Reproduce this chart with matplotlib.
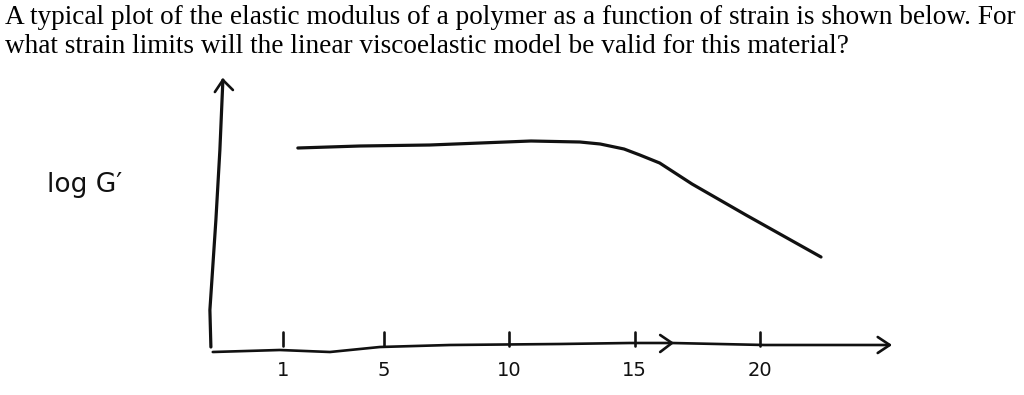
import matplotlib
matplotlib.use("Agg")
import matplotlib.pyplot as plt

# ---- data ----
question = ("A typical plot of the elastic modulus of a polymer as a function of strain is shown below. For\n"
            "what strain limits will the linear viscoelastic model be valid for this material?")
y_label = "log G\u2032"
strain = [1.58, 4.05, 6.84, 10.87, 12.82, 13.63, 14.58, 15.21, 16.0, 17.29, 19.44, 22.43]
log_g = [20.2, 20.4, 20.5, 20.9, 20.8, 20.6, 20.1, 19.5, 18.7, 16.6, 13.5, 9.3]
tick_values = [1, 5, 10, 15, 20]
tick_labels = ["1", "5", "10", "15", "20"]

# hand-drawn axis path (strain, level)
x_axis_x = [-1.81, 0.86, 2.86, 4.85, 7.64, 12.02, 14.81, 16.49, 20.19, 25.17]
x_axis_y = [-0.2, 0.0, -0.2, 0.3, 0.5, 0.6, 0.7, 0.7, 0.5, 0.5]
y_axis_x = [-1.885, -1.925, -1.845, -1.686, -1.527, -1.407]
y_axis_y = [0.3, 4.0, 7.0, 13.0, 20.0, 27.0]

fig = plt.figure(figsize=(10.24, 3.95), dpi=100)
ax = fig.add_axes([0, 0, 1, 1])
ax.set_xlim(-10.29, 30.52)
ax.set_ylim(-4.5, 35.0)
ax.axis("off")

ink = "#111111"
lw_axis = 1.9

# curve
ax.plot(strain, log_g, color=ink, lw=2.3, solid_capstyle="round", solid_joinstyle="round")

# axes (hand-drawn look)
ax.plot(x_axis_x, x_axis_y, color=ink, lw=lw_axis, solid_capstyle="round", solid_joinstyle="round")
ax.plot(y_axis_x, y_axis_y, color=ink, lw=2.3, solid_capstyle="round", solid_joinstyle="round")

# arrow heads
ax.plot([16.02, 16.49, 16.02], [1.5, 0.7, -0.2], color=ink, lw=lw_axis, solid_capstyle="round", solid_joinstyle="round")
ax.plot([24.69, 25.17, 24.69], [1.3, 0.5, -0.3], color=ink, lw=lw_axis, solid_capstyle="round", solid_joinstyle="round")
ax.plot([-1.726, -1.407, -1.008], [25.8, 27.0, 26.0], color=ink, lw=lw_axis, solid_capstyle="round", solid_joinstyle="round")

# ticks and labels
for v, lab in zip(tick_values, tick_labels):
    ax.plot([v, v], [0.4, 1.8], color=ink, lw=lw_axis, solid_capstyle="round")
    ax.text(v, -2.0, lab, ha="center", va="center", fontsize=14, color=ink, family="DejaVu Sans")

ax.text(-6.9, 16.5, y_label, ha="center", va="center", fontsize=19, color=ink, family="DejaVu Sans")

fig.text(5 / 1024, 1 - 5 / 395, question, ha="left", va="top", fontsize=19.6,
         family="Liberation Serif", color="black", linespacing=1.2)

fig.savefig("out.png", dpi=100, facecolor="white")
